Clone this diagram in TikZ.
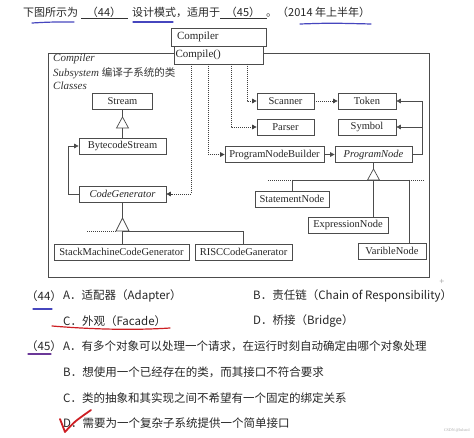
\documentclass[tikz,border=0pt]{standalone}
\usepackage{fontspec}
\setmainfont{Liberation Serif}
\newfontfamily\cjk{Noto Sans CJK SC}
\usetikzlibrary{arrows.meta,calc}
\definecolor{penblue}{RGB}{70,70,190}
\definecolor{penred}{RGB}{205,30,35}
\begin{document}
\begin{tikzpicture}[x=1pt,y=-1pt,
  box/.style={draw=black!70, line width=0.7pt, fill=white, inner sep=0pt,
    minimum height=16pt, font=\fontsize{10.5}{10.5}\selectfont, text=black!85},
  dep/.style={draw=black!75, line width=0.7pt, dash pattern=on 1pt off 1pt},
  sol/.style={draw=black!70, line width=0.7pt},
  tip/.style={-{Triangle[length=4.5pt,width=4.5pt]}},
  q/.style={anchor=west, inner sep=0pt, font=\cjk\fontsize{11.5}{11.5}\selectfont, text=black!85},
  top/.style={anchor=west, inner sep=0pt, font=\cjk\fontsize{11}{11}\selectfont, text=black!85},
  pen/.style={line width=1.2pt, line cap=round, draw=penblue},
]
\useasboundingbox (0,0) rectangle (474,438);

% ---------- question line ----------
\node[top] (t1) at (23,12) {下图所示为};
\node[top, anchor=center] (t2) at (104,12) {（44）};
\node[top] (t3) at (132,12) {设计模式，适用于};
\node[top, anchor=center] (t4) at (243,12) {（45）};
\node[top] (t5) at (266,12) {。（2014 年上半年）};
\draw[black!80, line width=0.6pt] (81,18) -- (128,18);
\draw[black!80, line width=0.6pt] (220,18) -- (267,18);
\draw[pen] (32,23) .. controls (50,22) .. (74,22);
\draw[pen] (133,22) -- (173,22);
\draw[pen] (300,24) .. controls (330,23) .. (371,24);

% ---------- subsystem frame ----------
\draw[sol] (48,53) rectangle (429,277);
\node[anchor=west, inner sep=0pt, font=\itshape\fontsize{11}{11}\selectfont, text=black!80] (f1) at (53,59) {Compiler};
\node[anchor=west, inner sep=0pt, font=\fontsize{11}{11}\selectfont, text=black!80] (f2) at (53,73) {\textit{Subsystem} {\cjk\fontsize{10.5}{10.5}\selectfont 编译子系统的类}};
\node[anchor=west, inner sep=0pt, font=\itshape\fontsize{11}{11}\selectfont, text=black!80] (f3) at (53,86) {Classes};

% ---------- Compiler facade ----------
\node[box, minimum width=89pt, minimum height=18pt, text width=83pt, align=left, inner xsep=6pt, font=\fontsize{11}{11}\selectfont] (ctop) at (218.5,37) {Compiler};
\node[box, minimum width=89pt, minimum height=18pt, text width=86pt, align=left, inner xsep=1.5pt, font=\fontsize{11}{11}\selectfont] (cbot) at (218.5,55) {Compile()};

% ---------- classes ----------
\node[box, minimum width=60pt] (stream) at (122.5,101.5) {Stream};
\node[box, minimum width=87pt] (bytecode) at (122.5,146) {BytecodeStream};
\node[box, minimum width=87pt, font=\itshape\fontsize{10.5}{10.5}\selectfont] (codegen) at (122.5,194) {CodeGenerator};
\node[box, minimum width=135pt] (stackm) at (121.5,252) {StackMachineCodeGenerator};
\node[box, minimum width=97pt] (risc) at (243.5,252) {RISCCodeGanerator};
\node[box, minimum width=57pt] (scanner) at (285.5,101) {Scanner};
\node[box, minimum width=58pt] (token) at (367,101) {Token};
\node[box, minimum width=57pt] (parser) at (285.5,127) {Parser};
\node[box, minimum width=58pt] (symbol) at (367,127) {Symbol};
\node[box, minimum width=99pt] (pnb) at (274.5,154.5) {ProgramNodeBuilder};
\node[box, minimum width=77pt, font=\itshape\fontsize{10.5}{10.5}\selectfont] (pnode) at (373.5,154.5) {ProgramNode};
\node[box, minimum width=74pt] (stmt) at (292,199) {StatementNode};
\node[box, minimum width=80pt] (expr) at (348,225) {ExpressionNode};
\node[box, minimum width=68pt] (varib) at (392,251) {VaribleNode};

% ---------- dependencies from Compiler ----------
\coordinate (d1) at (191,64);
\coordinate (d2) at (208,64);
\coordinate (d3) at (231,64);
\coordinate (d4) at (247,64);
\draw[dep, tip] (d1) |- (codegen.east);
\draw[dep, tip] (d2) |- (pnb.west);
\draw[dep, tip] (d3) |- (parser.west);
\draw[dep, tip] (d4) |- (scanner.west);
\draw[dep, tip] (scanner.east) -- (token.west);
\draw[sol, tip] (pnb.east) -- (pnode.west);

% ProgramNode -> Token, Symbol
\coordinate (pr) at (422,154.5);
\draw[sol, tip] (pnode.east) -- (pr) |- (token.east);
\draw[sol, tip] (pr |- symbol.east) -- (symbol.east);

% CodeGenerator -> BytecodeStream
\draw[sol, tip] (codegen.west) -- ++(-10,0) |- (bytecode.west);

% ---------- inheritance ----------
% Stream
\draw[sol] (stream.south) -- (bytecode.north);
\draw[sol, fill=white] (122.5,117) -- (116.5,128) -- (128.5,128) -- cycle;

% CodeGenerator
\coordinate (cgb) at (122.5,231);
\draw[sol] (codegen.south) -- (codegen.south |- stackm.north);
\draw[sol] (cgb) -- (cgb -| risc.north) -- (risc.north);
\draw[dep] (87,231) -- (116,231);
\draw[sol, fill=white] (122.5,218) -- (116,231) -- (129,231) -- cycle;

% ProgramNode
\coordinate (pnl) at (292,180);
\coordinate (pnr) at (409,180);
\draw[sol] (pnode.south) -- (pnode.south |- expr.north);
\draw[sol] (pnl) -- (pnr);
\draw[sol] (pnl) -- (stmt.north);
\draw[sol] (pnr) -- (pnr |- varib.north);
\draw[dep] (268,180) -- (pnl);
\draw[dep] (pnr) -- (425,180);
\draw[sol, fill=white] (373.5,169) -- (367.5,180) -- (379.5,180) -- cycle;

\node[text=black!45, font=\fontsize{9}{9}\selectfont, inner sep=0pt] (plus) at (442,282) {+};

% ---------- answers ----------
\node[q] (a44) at (26,296) {（44）};
\node[q] (a44a) at (63,296) {A．适配器（Adapter）};
\node[q] (a44b) at (253,296) {B．责任链（Chain of Responsibility）};
\node[q] (a44c) at (63,321) {C．外观（Facade）};
\node[q] (a44d) at (253,321) {D．桥接（Bridge）};
\draw[pen] (33,309) -- (52,309);
\draw[pen, draw=penred] (52,326) .. controls (100,330) and (140,330) .. (170,328);

\node[q] (a45) at (26,346) {（45）};
\node[q] (a45a) at (63,346) {A．有多个对象可以处理一个请求，在运行时刻自动确定由哪个对象处理};
\node[q] (a45b) at (63,372) {B．想使用一个已经存在的类，而其接口不符合要求};
\node[q] (a45c) at (63,398) {C．类的抽象和其实现之间不希望有一个固定的绑定关系};
\node[q] (a45d) at (63,423) {D．需要为一个复杂子系统提供一个简单接口};
\draw[pen, draw=penblue!80!red] (28,354) -- (51,354);
\draw[line width=1.8pt, line cap=round, line join=round, draw=penred] (60,419) -- (65,432) .. controls (74,422) .. (91,410);

\node[text=black!35, font=\fontsize{4}{4}\selectfont, inner sep=0pt, anchor=east] (wm) at (470,430) {CSDN @lulutol};
\end{tikzpicture}
\end{document}
